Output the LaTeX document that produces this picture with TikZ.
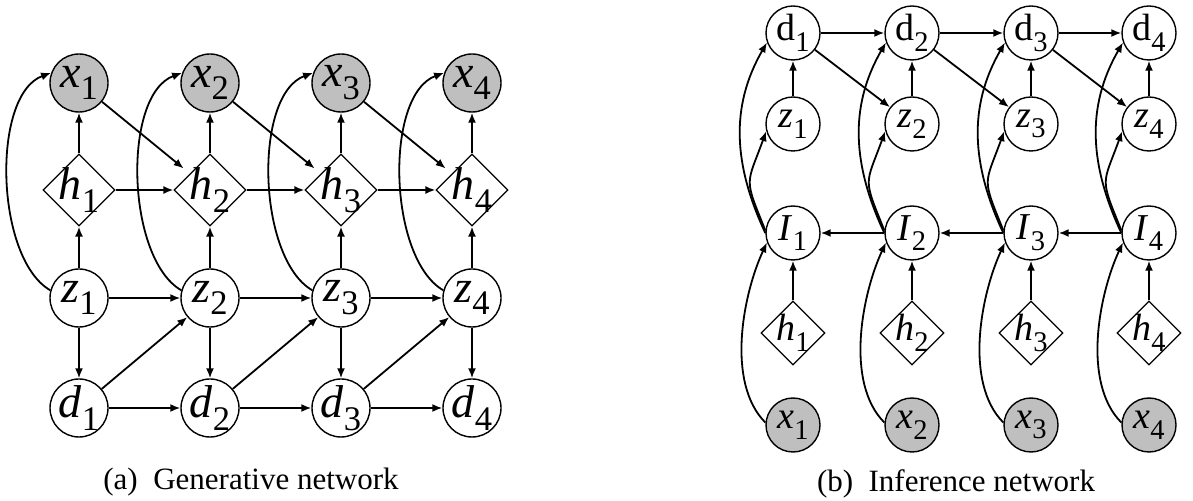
\documentclass[tikz,border=0pt]{standalone}
\usepackage{fontspec}
\setmainfont{Liberation Serif}
\usetikzlibrary{shapes.geometric,arrows.meta}
\newcommand{\varlbl}[2]{\makebox[0pt]{#1\raisebox{-0.28em}{\scalebox{0.75}{#2}}}}
\tikzset{
  gen/.style={circle,draw,line width=0.7pt,minimum size=29pt,inner sep=0pt,font=\fontsize{23}{24}\selectfont},
  inf/.style={circle,draw,line width=0.7pt,minimum size=27pt,inner sep=0pt,font=\fontsize{19}{20}\selectfont},
  obs/.style={fill=black!25},
  gdet/.style={diamond,draw,line width=0.6pt,minimum size=36pt,inner sep=0pt,font=\fontsize{23}{24}\selectfont},
  idet/.style={diamond,draw,line width=0.6pt,minimum size=32pt,inner sep=0pt,font=\fontsize{19}{20}\selectfont},
  arr/.style={-{Latex[length=5pt,width=4pt]},line width=0.9pt},
  captext/.style={font=\fontsize{15.5}{18}\selectfont,anchor=base}
}
\begin{document}
\begin{tikzpicture}[x=0.5pt,y=0.5pt]
\useasboundingbox (0,0) rectangle (1193,-501);
% (a) generative network
\foreach \i/\cx in {1/79,2/210,3/341,4/472}{
  \node[gen,obs] (gx\i) at (\cx,-83) {\varlbl{\textit{x}}{\i}};
  \node[gdet] (gh\i) at (\cx,-190) {\varlbl{\textit{h}}{\i}};
  \node[gen] (gz\i) at (\cx,-298) {\varlbl{\textit{z}}{\i}};
  \node[gen] (gd\i) at (\cx,-408) {\varlbl{\textit{d}}{\i}};
}
\foreach \i in {1,...,4}{
  \draw[arr] (gh\i) -- (gx\i);
  \draw[arr] (gz\i) -- (gh\i);
  \draw[arr] (gz\i) -- (gd\i);
  \draw[arr] (gz\i.165) to[out=150,in=200,looseness=.75] (gx\i.160);
}
\foreach \i/\j in {1/2,2/3,3/4}{
  \draw[arr,shorten >=4pt] (gx\i) -- (gh\j);
  \draw[arr] (gh\i) -- (gh\j);
  \draw[arr] (gz\i) -- (gz\j);
  \draw[arr] (gd\i) -- (gd\j);
  \draw[arr] (gd\i) -- (gz\j);
}
\node[captext] (capa) at (251,-490) {(a)\enspace Generative network};
% (b) inference network
\foreach \i/\cx in {1/793,2/912,3/1031,4/1149}{
  \node[inf] (id\i) at (\cx,-33) {\varlbl{d}{\i}};
  \node[inf] (iz\i) at (\cx,-124) {\varlbl{\textit{z}}{\i}};
  \node[inf] (iI\i) at (\cx,-233) {\varlbl{\textit{I}}{\i}};
  \node[idet] (ih\i) at (\cx,-333) {\varlbl{\textit{h}}{\i}};
  \node[inf,obs] (ix\i) at (\cx,-425) {\varlbl{\textit{x}}{\i}};
}
\foreach \i in {1,...,4}{
  \draw[arr] (iz\i) -- (id\i);
  \draw[arr] (ih\i) -- (iI\i);
  \draw[arr] (ix\i.175) to[out=135,in=245,looseness=.8] (iI\i.200);
  \draw[arr] (iI\i.180) to[out=115,in=240] (id\i.200);
  \draw[arr] (iI\i.175) to[out=112,in=250,looseness=1.5] (iz\i.195);
}
\foreach \i/\j in {1/2,2/3,3/4}{
  \draw[arr] (id\i) -- (id\j);
  \draw[arr] (id\i) -- (iz\j);
  \draw[arr] (iI\j) -- (iI\i);
}
\node[captext] (capb) at (956,-492) {(b)\enspace Inference network};
\end{tikzpicture}
\end{document}
